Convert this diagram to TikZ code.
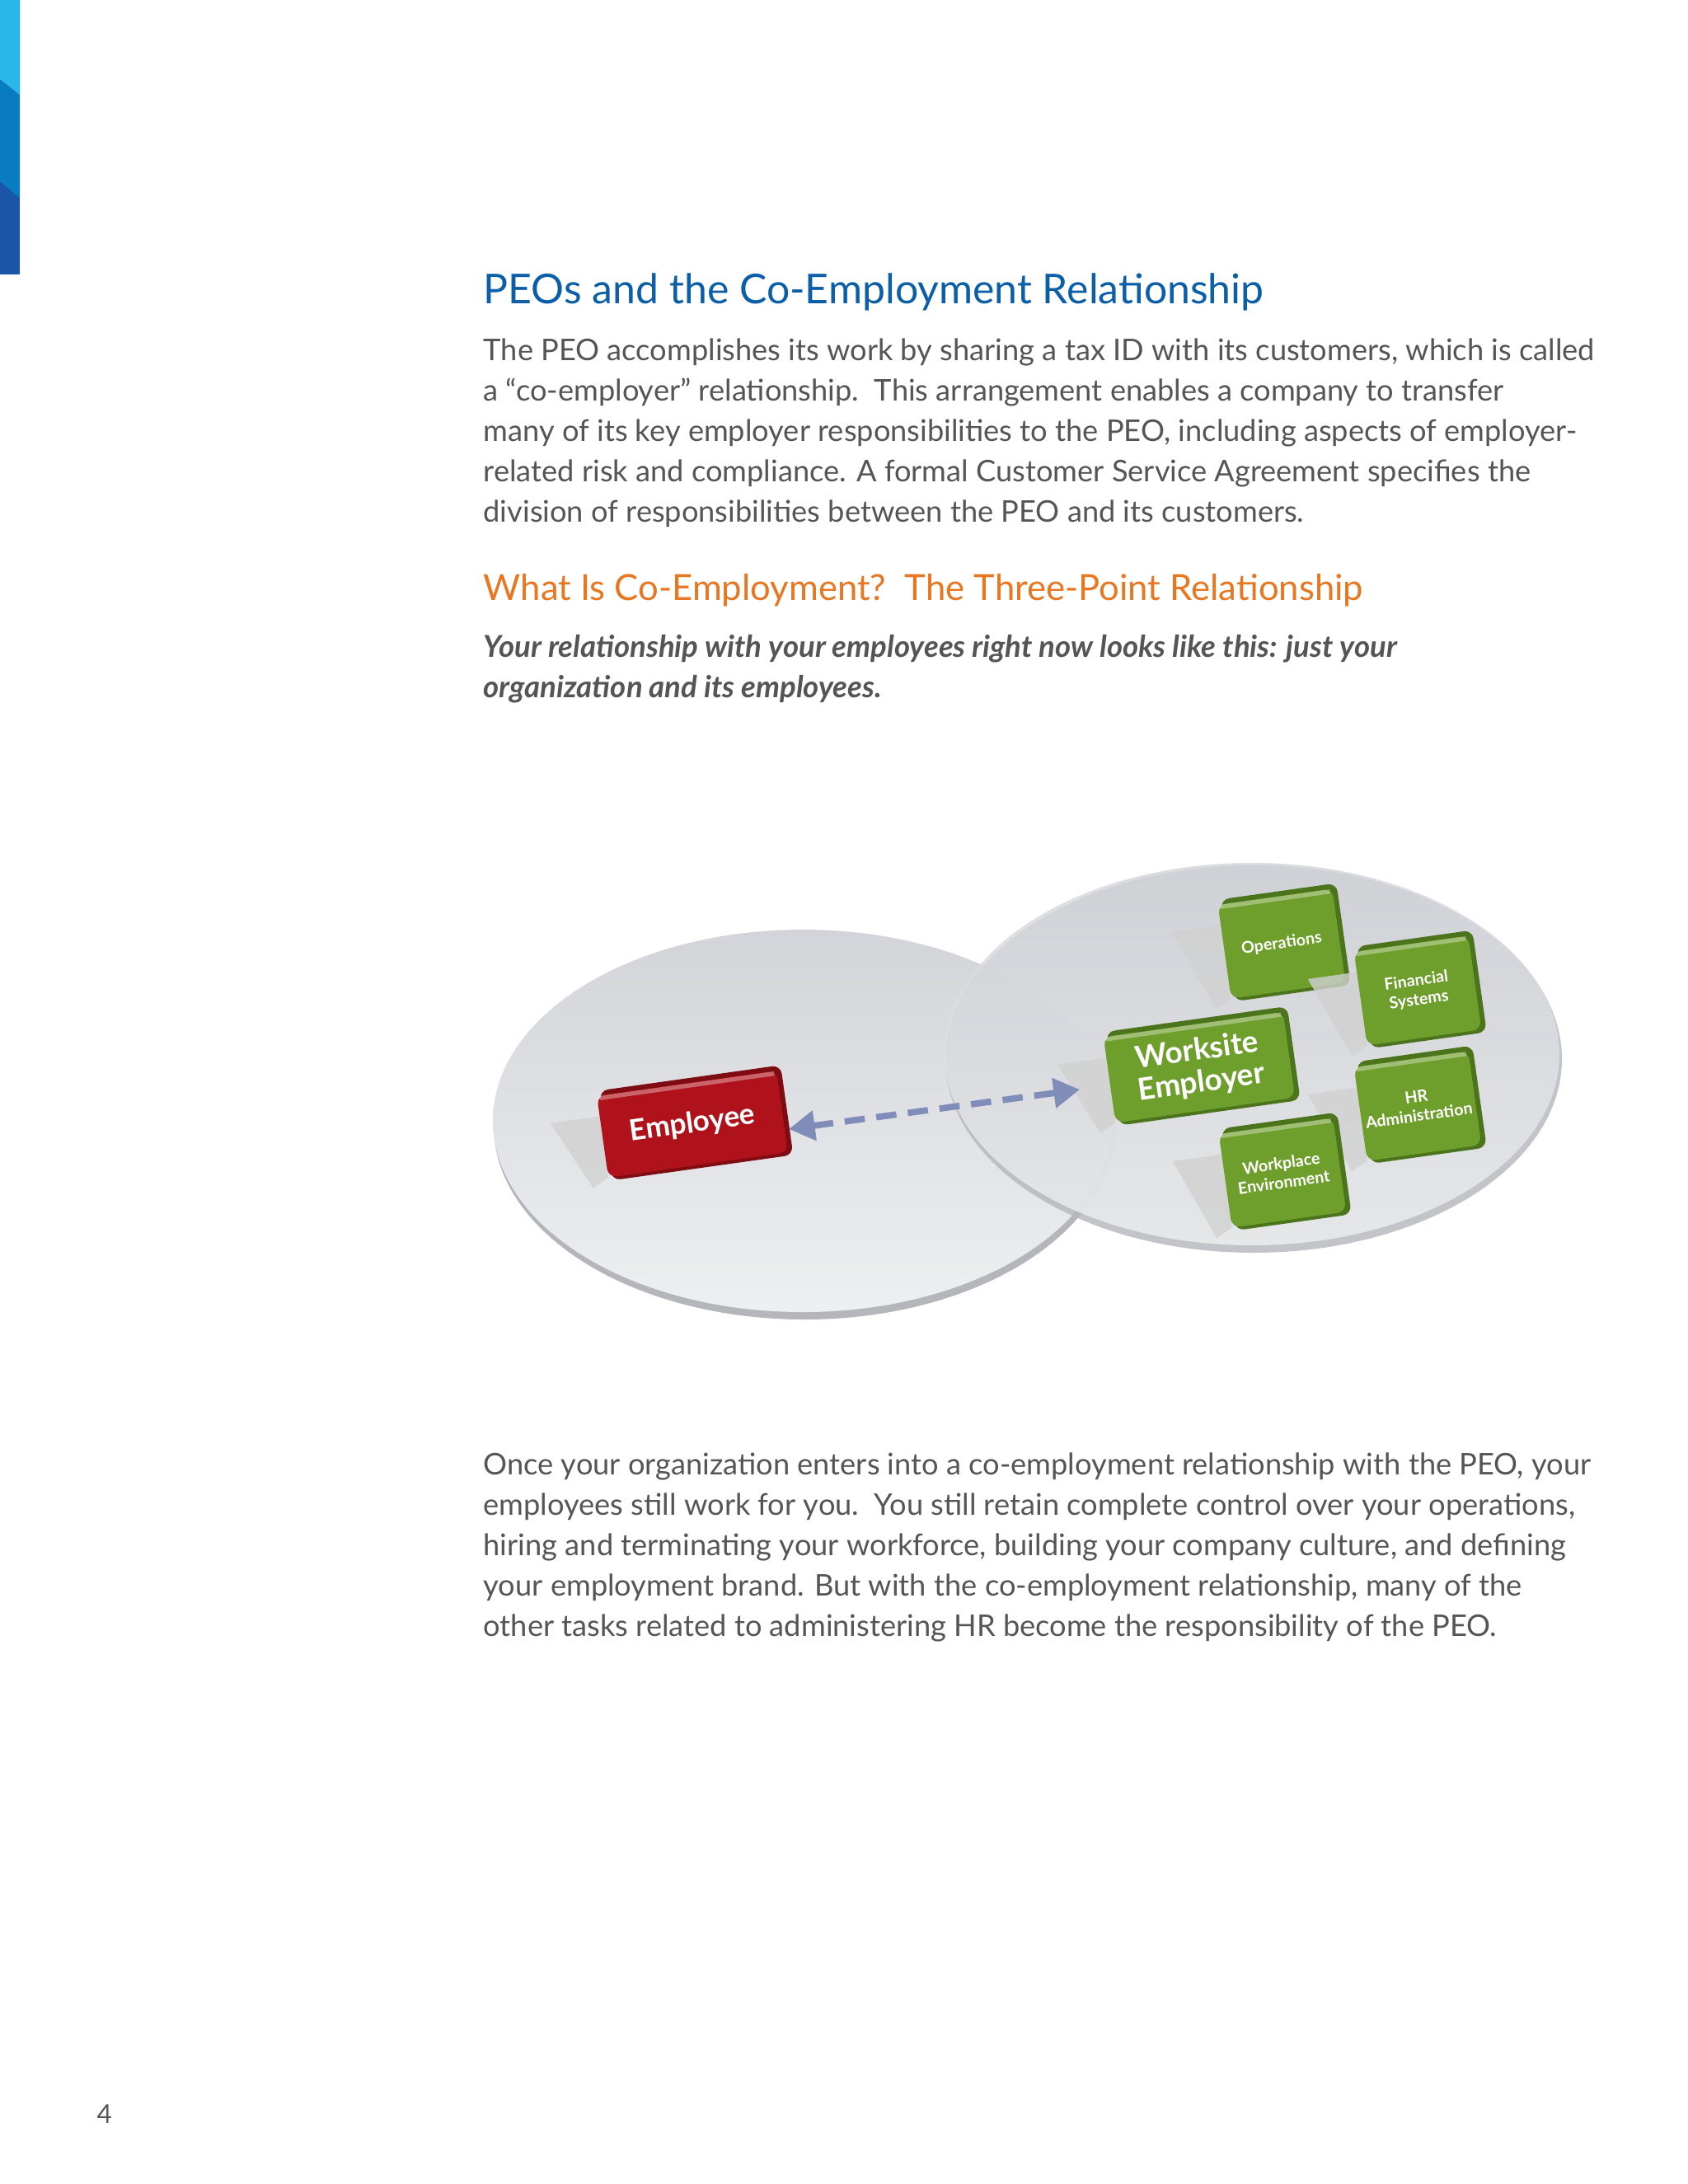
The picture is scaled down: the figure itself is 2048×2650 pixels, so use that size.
\documentclass[tikz,border=0pt]{standalone}
\usepackage{fontspec}
\setmainfont{Lato}
\usetikzlibrary{arrows.meta}
\definecolor{tblue}{HTML}{0B5EA8}
\definecolor{tgray}{HTML}{555555}
\definecolor{torange}{HTML}{E87722}
\definecolor{gface}{HTML}{6E9E2C}
\definecolor{gdark}{HTML}{4C741C}
\definecolor{rface}{HTML}{B0121B}
\definecolor{rdark}{HTML}{7E0C12}
\definecolor{arr}{HTML}{7F8DB8}
\definecolor{barA}{HTML}{1A55A8}
\definecolor{barB}{HTML}{0A7BC1}
\definecolor{barC}{HTML}{29B6E8}
\definecolor{rim}{HTML}{B4B6BC}
\definecolor{elltop}{HTML}{D2D4D9}
\definecolor{ellbot}{HTML}{EEEFF1}
\tikzset{
 body/.style={anchor=base west,inner sep=0,font=\fontsize{10.3}{13}\selectfont,text=tgray},
 bx/.style={rotate=8,minimum width=#1,inner sep=0,align=center,text=white,font=\bfseries},
}
\newcommand{\mybox}[7]{%
 \begin{scope}[shift={(#2,#3)},rotate=8]
  \fill[black!18,opacity=.8] (-#4/2-60,-#5/2+25) -- (-#4/2,-#5/2+25) -- (-#4/2,#5/2) -- (-#4/2-20,#5/2+10) -- cycle;
  \fill[#7,rounded corners=3] (-#4/2+4,-#5/2-6) rectangle (#4/2+6,#5/2+4);
  \fill[#6,rounded corners=3] (-#4/2,-#5/2) rectangle (#4/2,#5/2);
  \draw[white,opacity=.35,line width=1.5] (-#4/2+3,-#5/2+3) -- (#4/2-3,-#5/2+3);
 \end{scope}
 \coordinate (#1) at (#2,#3);
}
\begin{document}
\begin{tikzpicture}[x=0.01cm,y=-0.01cm]
\useasboundingbox (0,0) rectangle (2048,2650);
\fill[white] (0,0) rectangle (2048,2650);
% side bar
\fill[barA] (0,0) rectangle (24,333);
\fill[barB] (0,0) -- (24,0) -- (24,240) -- (0,220) -- cycle;
\fill[barC] (0,0) -- (24,0) -- (24,115) -- (0,96) -- cycle;
% texts
\node[anchor=base west,inner sep=0,font=\fontsize{14.2}{17}\selectfont,text=tblue] (t1) at (586,368) {PEOs and the Co-Employment Relationship};
\node[body] (p1) at (586,437) {The PEO accomplishes its work by sharing a tax ID with its customers, which is called};
\node[body] (p2) at (586,486) {a “co-employer” relationship.\ \ This arrangement enables a company to transfer};
\node[body] (p3) at (586,535) {many of its key employer responsibilities to the PEO, including aspects of employer-};
\node[body] (p4) at (586,584) {related risk and compliance. A formal Customer Service Agreement specifies the};
\node[body] (p5) at (586,633) {division of responsibilities between the PEO and its customers.};
\node[anchor=base west,inner sep=0,font=\fontsize{12.4}{15}\selectfont,text=torange] (t2) at (586,728) {What Is Co-Employment?\ \ The Three-Point Relationship};
\node[body,font=\fontsize{10.4}{13}\selectfont\bfseries\itshape] (i1) at (586,797) {Your relationship with your employees right now looks like this: just your};
\node[body,font=\fontsize{10.4}{13}\selectfont\bfseries\itshape] (i2) at (586,846) {organization and its employees.};
\node[body] (q1) at (586,1789) {Once your organization enters into a co-employment relationship with the PEO, your};
\node[body] (q2) at (586,1838) {employees still work for you.\ \ You still retain complete control over your operations,};
\node[body] (q3) at (586,1887) {hiring and terminating your workforce, building your company culture, and defining};
\node[body] (q4) at (586,1936) {your employment brand. But with the co-employment relationship, many of the};
\node[body] (q5) at (586,1985) {other tasks related to administering HR become the responsibility of the PEO.};
\node[body,font=\fontsize{9}{11}\selectfont] (pg) at (117,2576) {4};
% ellipses
\fill[rim] (976,1366) ellipse [x radius=377,y radius=235];
\shade[top color=elltop,bottom color=ellbot] (974,1360) ellipse [x radius=376,y radius=232];
\fill[rim,opacity=.8] (1521,1285) ellipse [x radius=374,y radius=235];
\shade[top color=elltop,bottom color=ellbot,opacity=.82] (1519,1279) ellipse [x radius=373,y radius=232];
% boxes
\mybox{emp}{840}{1364}{220}{100}{rface}{rdark}
\mybox{wse}{1455}{1295}{220}{105}{gface}{gdark}
\mybox{ops}{1555}{1145}{140}{115}{gface}{gdark}
\mybox{fin}{1720}{1202}{140}{115}{gface}{gdark}
\mybox{hra}{1720}{1342}{140}{115}{gface}{gdark}
\mybox{wpe}{1556}{1423}{140}{115}{gface}{gdark}
\node[bx=200,font=\bfseries\fontsize{10}{11}\selectfont] (temp) at (emp) {Employee};
\node[bx=200,font=\bfseries\fontsize{10.5}{11}\selectfont] (twse) at (wse) {Worksite\\Employer};
\node[bx=120,font=\bfseries\fontsize{5.6}{6.6}\selectfont] (tops) at (ops) {Operations};
\node[bx=120,font=\bfseries\fontsize{5.6}{6.6}\selectfont] (tfin) at (fin) {Financial\\Systems};
\node[bx=120,font=\bfseries\fontsize{5.6}{6.6}\selectfont] (thra) at (hra) {HR\\Administration};
\node[bx=120,font=\bfseries\fontsize{5.6}{6.6}\selectfont] (twpe) at (wpe) {Workplace\\Environment};
% arrow
\coordinate (a1) at (957,1370);
\coordinate (a2) at (1310,1322);
\draw[arr,line width=2.2pt,dash pattern=on 7pt off 4pt,{Triangle[length=9pt,width=10pt]}-{Triangle[length=9pt,width=10pt]}] (a1) -- (a2);
\end{tikzpicture}
\end{document}
